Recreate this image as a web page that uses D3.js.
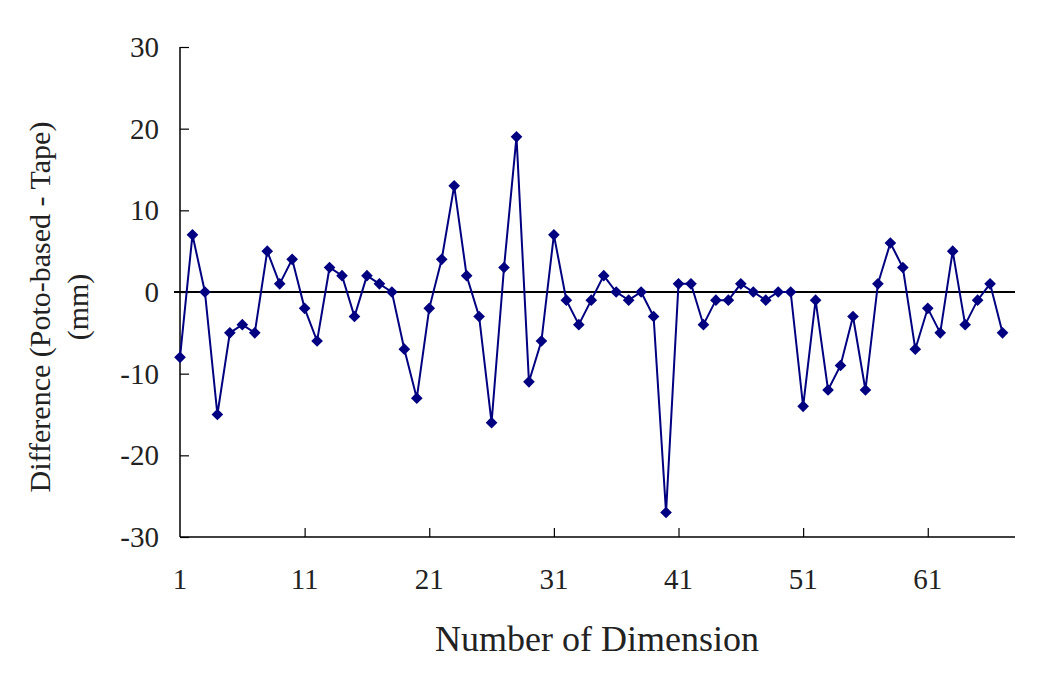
<!DOCTYPE html>
<html>
<head>
<meta charset="utf-8">
<script src="https://cdn.jsdelivr.net/npm/d3@7"></script>
<style>
  body { margin: 0; background: #fff; }
  svg { display: block; }
  text { font-family: "Liberation Serif", "Times New Roman", serif; fill: #222; }
</style>
</head>
<body>
<svg width="1044" height="673"></svg>
<script>
const width = 1044;
const height = 673;

// dimension number -> difference (mm)
const dims = d3.range(1, 68);
const diffs = [
  -8, 7, 0, -15, -5, -4, -5, 5, 1, 4,
  -2, -6, 3, 2, -3, 2, 1, 0, -7, -13,
  -2, 4, 13, 2, -3, -16, 3, 19, -11, -6,
  7, -1, -4, -1, 2, 0, -1, 0, -3, -27,
  1, 1, -4, -1, -1, 1, 0, -1, 0, 0,
  -14, -1, -12, -9, -3, -12, 1, 6, 3, -7,
  -2, -5, 5, -4, -1, 1, -5
];
const xTicks = [1, 11, 21, 31, 41, 51, 61];
const yTicks = [-30, -20, -10, 0, 10, 20, 30];

const svg = d3.select("svg");

const x = d3.scaleLinear().domain([1, 68]).range([180, 1015]);
const y = d3.scaleLinear().domain([-30, 30]).range([537, 47]);

const points = dims.map((d, i) => ({ dim: d, val: diffs[i] }));

// y axis, ticks pointing inward
const yAxis = svg.append("g")
  .attr("transform", `translate(${x(1)},0)`)
  .call(d3.axisRight(y).tickValues(yTicks).tickSize(9).tickFormat(""));
yAxis.select(".domain").attr("stroke", "#000").attr("stroke-width", 1.5).attr("d", `M0,${y(30)}V${y(-30)}`);
yAxis.selectAll(".tick line").attr("stroke", "#000").attr("stroke-width", 1.2);

svg.append("g")
  .selectAll("text")
  .data(yTicks)
  .join("text")
  .attr("x", 159)
  .attr("y", d => y(d) + 10)
  .attr("text-anchor", "end")
  .style("font-size", "29px")
  .text(d => d);

// x axis at the bottom, ticks pointing up
const xAxis = svg.append("g")
  .attr("transform", `translate(0,${y(-30)})`)
  .call(d3.axisTop(x).tickValues(xTicks.slice(1)).tickSize(9).tickFormat(""));
xAxis.select(".domain").attr("stroke", "#000").attr("stroke-width", 1.5).attr("d", `M${x(1)},0H${x(68)}`);
xAxis.selectAll(".tick line").attr("stroke", "#000").attr("stroke-width", 1.2);

svg.append("g")
  .selectAll("text")
  .data(xTicks)
  .join("text")
  .attr("x", d => x(d))
  .attr("y", 589)
  .attr("text-anchor", "middle")
  .style("font-size", "29px")
  .text(d => d);

// zero line
svg.append("line")
  .attr("x1", x(1) - 6)
  .attr("x2", x(68))
  .attr("y1", y(0))
  .attr("y2", y(0))
  .attr("stroke", "#000")
  .attr("stroke-width", 2);

// series
const line = d3.line().x(d => x(d.dim)).y(d => y(d.val));

svg.append("path")
  .datum(points)
  .attr("fill", "none")
  .attr("stroke", "#000080")
  .attr("stroke-width", 2)
  .attr("d", line);

svg.append("g")
  .selectAll("path")
  .data(points)
  .join("path")
  .attr("d", d3.symbol().type(d3.symbolSquare).size(68))
  .attr("transform", d => `translate(${x(d.dim)},${y(d.val)}) rotate(45)`)
  .attr("fill", "#000080");

// titles
svg.append("text")
  .attr("x", 597)
  .attr("y", 651)
  .attr("text-anchor", "middle")
  .style("font-size", "36px")
  .text("Number of Dimension");

const yTitle = svg.append("text")
  .attr("transform", "translate(50,307) rotate(-90)")
  .attr("text-anchor", "middle")
  .style("font-size", "30px");
yTitle.append("tspan").attr("x", 0).attr("dy", 0).text("Difference (Poto-based - Tape)");
yTitle.append("tspan").attr("x", 0).attr("dy", 38).text("(mm)");
</script>
</body>
</html>
